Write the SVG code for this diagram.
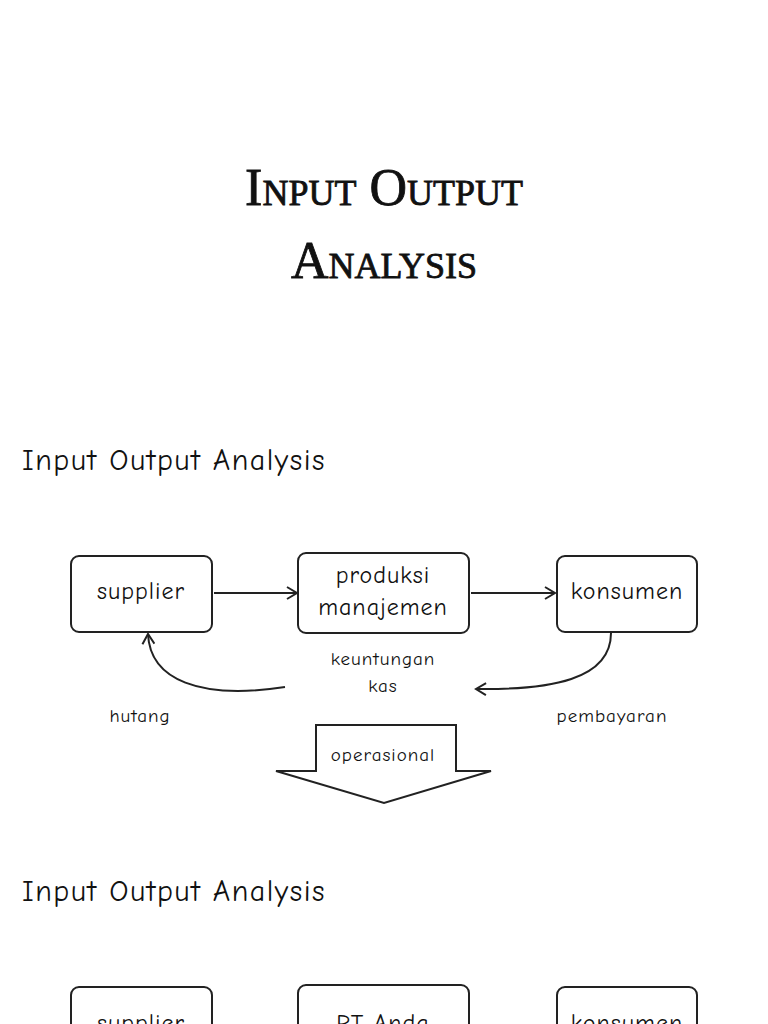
<svg xmlns="http://www.w3.org/2000/svg" width="768" height="1024" viewBox="0 0 768 1024">
<style>
.t{font-family:"Liberation Serif",serif;font-variant:small-caps;font-size:52px;fill:#111;text-anchor:middle;stroke:#111;stroke-width:0.8}
.h{font-family:"Comic Neue","Liberation Sans",sans-serif;font-size:30px;letter-spacing:1.5px;fill:#111}
.n{font-family:"Comic Neue","Liberation Sans",sans-serif;font-size:24px;letter-spacing:1px;fill:#111;text-anchor:middle}
.l{font-family:"Comic Neue","Liberation Sans",sans-serif;font-size:19px;letter-spacing:1px;fill:#111;text-anchor:middle}
.b{fill:#fff;stroke:#222;stroke-width:2}
.c{fill:none;stroke:#222;stroke-width:2;marker-end:url(#a)}
</style>
<defs><marker id="a" markerWidth="14" markerHeight="14" refX="12" refY="7" orient="auto" markerUnits="userSpaceOnUse"><path d="M2,1 L12,7 L2,13" fill="none" stroke="#222" stroke-width="2"/></marker></defs>
<rect width="768" height="1024" fill="#fff"/>
<text class="t" x="384" y="205">Input Output</text>
<text class="t" x="384" y="278">Analysis</text>
<text class="h" x="22" y="470">Input Output Analysis</text>
<g id="supplier"><rect class="b" x="71" y="556" width="141" height="76" rx="8"/><text class="n" x="141" y="599">supplier</text></g>
<g id="produksi"><rect class="b" x="298" y="553" width="171" height="80" rx="8"/><text class="n" x="383" y="583">produksi</text><text class="n" x="383" y="615">manajemen</text></g>
<g id="konsumen"><rect class="b" x="557" y="556" width="140" height="76" rx="8"/><text class="n" x="627" y="599">konsumen</text></g>
<g id="connectors">
<path class="c" d="M214,593 L297,593"/>
<path class="c" d="M471,593 L555,593"/>
<path class="c" d="M611,633 C611,680 550,690 476,689"/>
<path class="c" d="M285,687 C200,700 150,680 148,634"/>
</g>
<g id="labels">
<text class="l" x="383" y="665">keuntungan</text>
<text class="l" x="383" y="692">kas</text>
<text class="l" x="140" y="722">hutang</text>
<text class="l" x="612" y="722">pembayaran</text>
</g>
<g id="operasional"><path class="b" d="M316,725 L456,725 L456,771 L491,771 L384,803 L276,771 L316,771 Z"/><text class="l" x="383" y="761">operasional</text></g>
<text class="h" x="22" y="901">Input Output Analysis</text>
<g id="supplier2"><rect class="b" x="71" y="987" width="141" height="76" rx="8"/><text class="n" x="141" y="1031">supplier</text></g>
<g id="ptanda"><rect class="b" x="298" y="985" width="171" height="80" rx="8"/><text class="n" x="383" y="1031">PT Anda</text></g>
<g id="konsumen2"><rect class="b" x="557" y="987" width="140" height="76" rx="8"/><text class="n" x="627" y="1031">konsumen</text></g>
</svg>
